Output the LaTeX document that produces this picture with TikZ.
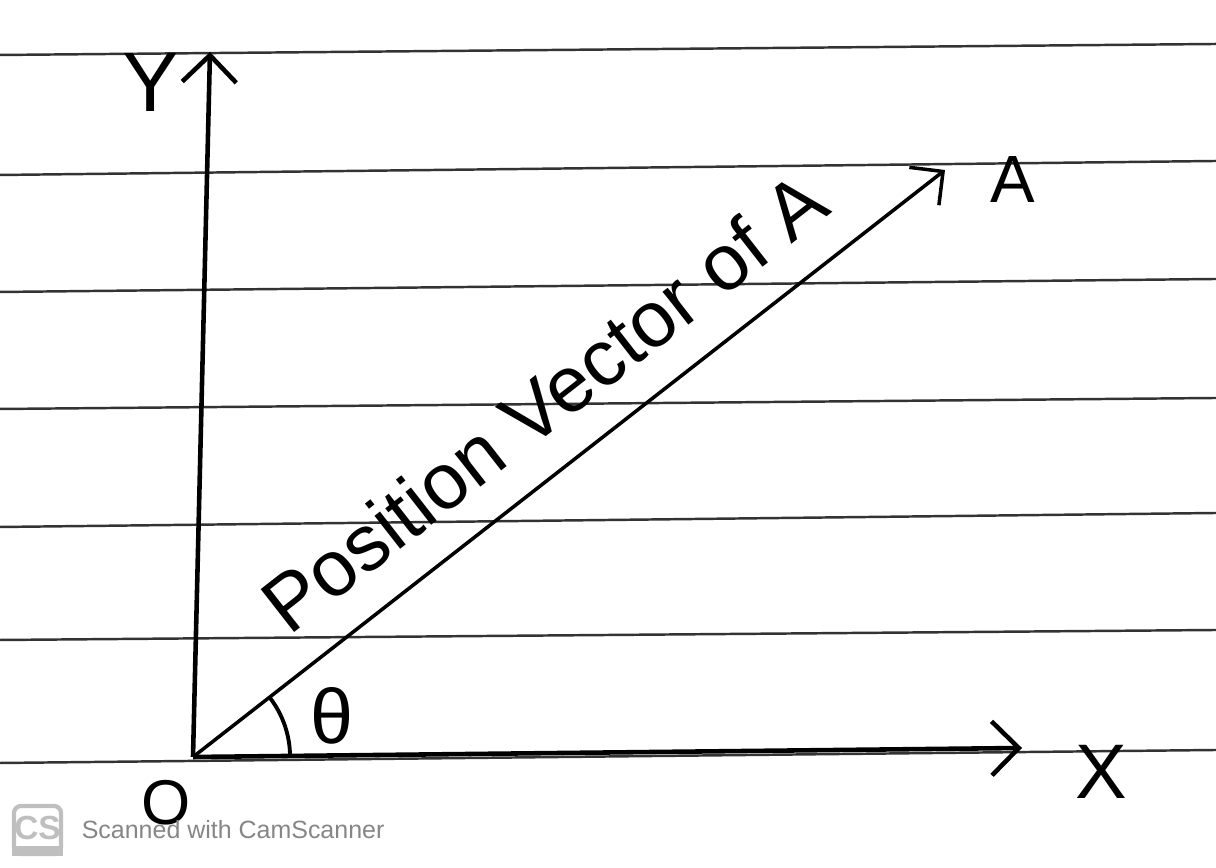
\documentclass[tikz,border=0pt]{standalone}
\usepackage{fontspec}
\setmainfont{Liberation Sans}
\usetikzlibrary{arrows.meta, positioning}

\begin{document}
\begin{tikzpicture}[x=0.01cm, y=0.01cm,
    paperline/.style={line width=0.7pt, black!80},
    axis/.style={-{Straight Barb[length=2.7mm, width=5.4mm]}, line width=1.3pt},
    vec/.style={-{Straight Barb[length=2.4mm, width=4.8mm]}, line width=1pt},
    axislabel/.style={inner sep=0pt, font=\fontsize{22}{24}\selectfont},
    vectext/.style={inner sep=0pt, font=\fontsize{22.5}{26}\selectfont},
    logo/.style={draw=gray!50, line width=1.2pt, rounded corners=2pt, minimum width=0.47cm,
                 minimum height=0.48cm, inner sep=0pt, text=gray!50, font=\bfseries\fontsize{9.5}{10}\selectfont},
    scantext/.style={inner sep=0pt, text=gray!95, font=\fontsize{7.1}{9}\selectfont}]

    \useasboundingbox (0,0) rectangle (1216,868);

    % Ruled paper
    \foreach \ya/\yb in {813/824, 693/707, 576/589, 459/470, 341/355, 228/238, 105/118}
        \draw[paperline] (0,\ya) -- (1216,\yb);

    % Points
    \coordinate (O) at (193,111);
    \coordinate (ytip) at (210,816);
    \coordinate (xtip) at (1022,120);
    \coordinate (Atip) at (945,698);

    % Axes and vector
    \draw[axis] (O) -- (ytip);
    \draw[axis] (O) -- (xtip);
    \draw[vec] (O) -- node[vectext, sloped, above=3.3mm, pos=0.519] (vlabel) {Position Vector of A} (Atip);
    \draw[line width=1.1pt] ([xshift=0.97cm]O) arc[start angle=0, end angle=38, radius=0.97cm];

    % Labels
    \node[axislabel, left=0.3cm of ytip, yshift=-0.3cm, font=\fontsize{24}{26}\selectfont] (ylabel) {Y};
    \node[axislabel, right=0.53cm of xtip, yshift=-0.24cm] (xlabel) {X};
    \node[axislabel, right=0.45cm of Atip, yshift=-0.1cm, font=\fontsize{19}{22}\selectfont] (Alabel) {A};
    \node[axislabel, below left=0.23cm and 0.02cm of O, font=\fontsize{18}{20}\selectfont] (Olabel) {O};
    \node[axislabel, above right=0.12cm and 1.17cm of O] (theta) {θ};

    % Scanner stamp
    \node[logo] (cslogo) at (37.5,38) {\raisebox{0.4mm}{CS}};
    \fill[gray!50] (cslogo.south west) rectangle ([yshift=1mm]cslogo.south east);
    \node[scantext, right=0.18cm of cslogo] (scanned) {Scanned with CamScanner};

\end{tikzpicture}
\end{document}
